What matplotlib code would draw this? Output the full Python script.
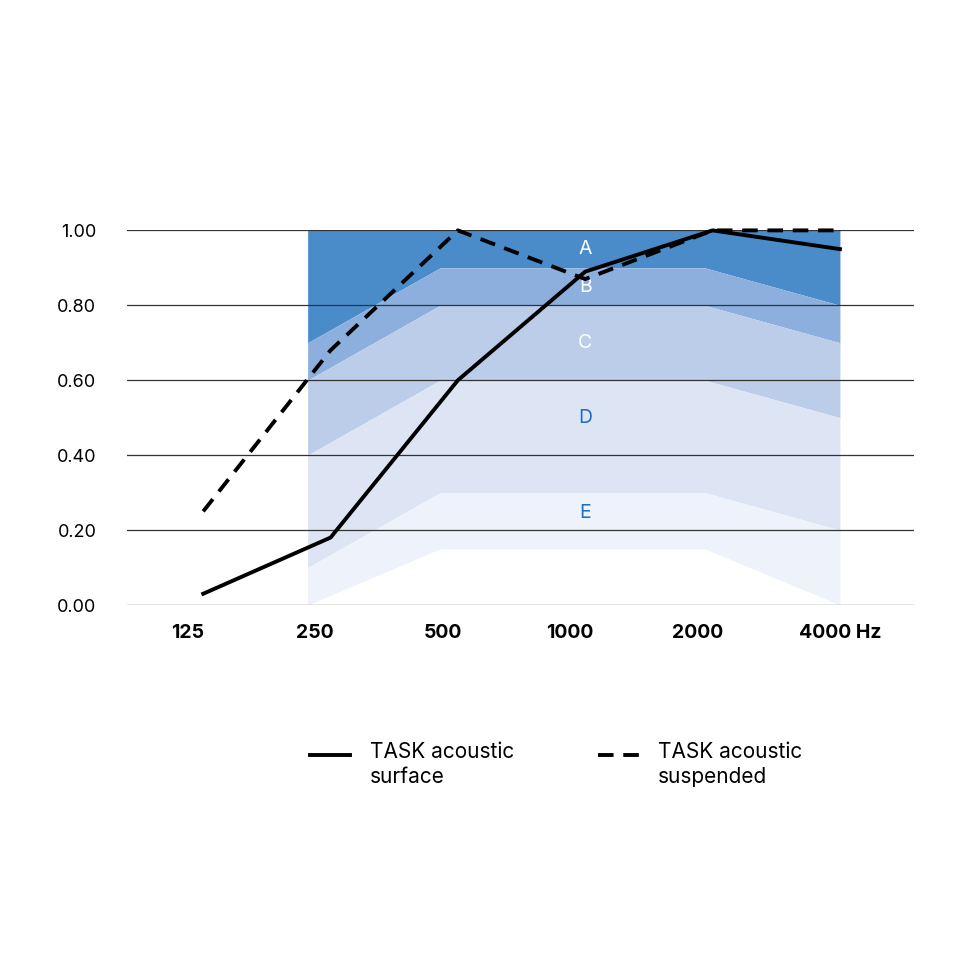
import matplotlib
matplotlib.use("Agg")
import matplotlib.pyplot as plt
from matplotlib.lines import Line2D

plt.rcParams['font.family'] = ['Inter', 'DejaVu Sans']

freqs = ["125", "250", "500", "1000", "2000", "4000 Hz"]
surface = [0.03, 0.18, 0.60, 0.89, 1.00, 0.95]
suspended = [0.25, 0.68, 1.00, 0.87, 1.00, 1.00]

band_x = [0.82, 1.86, 3.94, 5.0]
b_top = [1.0, 1.0, 1.0, 1.0]
b_A = [0.70, 0.90, 0.90, 0.80]
b_B = [0.60, 0.80, 0.80, 0.70]
b_C = [0.40, 0.60, 0.60, 0.50]
b_D = [0.10, 0.30, 0.30, 0.20]
b_E = [0.00, 0.15, 0.15, 0.00]
bounds = [b_top, b_A, b_B, b_C, b_D, b_E]
band_colors = ["#4a8bca", "#8cafdd", "#bccdea", "#dde5f4", "#eef2fa"]
class_labels = ["A", "B", "C", "D", "E"]
class_y = [0.95, 0.85, 0.70, 0.50, 0.245]
class_colors = ["white", "white", "white", "#1f6fbf", "#1f6fbf"]

fig = plt.figure(figsize=(9.68, 9.68), dpi=100)
ax = fig.add_axes([0.131, 0.375, 0.813, 0.387])
xs = list(range(len(freqs)))

for i in range(5):
    ax.fill_between(band_x, bounds[i + 1], bounds[i], color=band_colors[i], lw=0, zorder=1)
for lab, y, c in zip(class_labels, class_y, class_colors):
    ax.text(3.0, y, lab, color=c, fontsize=14, ha="center", va="center", zorder=3)

for y in [0, 0.2, 0.4, 0.6, 0.8, 1.0]:
    ax.axhline(y, color="#333333", lw=0.9, zorder=2)

ax.plot(xs, surface, color="black", lw=2.8, zorder=4, clip_on=False)
ax.plot(xs, suspended, color="black", lw=2.8, ls=(0, (4, 2.5)), zorder=4, clip_on=False)

ax.set_xlim(-0.6, 5.58)
ax.set_ylim(0, 1)
ax.set_yticks([0, 0.2, 0.4, 0.6, 0.8, 1.0])
ax.set_yticklabels(["0.00", "0.20", "0.40", "0.60", "0.80", "1.00"], fontsize=13)
ax.set_xticks([x - 0.12 for x in xs[:-1]] + [xs[-1] + 0.0])
ax.set_xticklabels(freqs, fontsize=14, fontweight="bold")
ax.tick_params(length=0, pad=14)
ax.tick_params(axis="y", pad=22)
for s in ax.spines.values():
    s.set_visible(False)

y1 = 1 - 755 / 968
fig.add_artist(Line2D([310 / 968, 350 / 968], [y1, y1], color="black", lw=2.8))
fig.add_artist(Line2D([598 / 968, 640 / 968], [y1, y1], color="black", lw=2.8, ls=(0, (4, 2.5))))
fig.text(370 / 968, y1 + 0.013, "TASK acoustic\nsurface", fontsize=15, va="top", linespacing=1.3)
fig.text(658 / 968, y1 + 0.013, "TASK acoustic\nsuspended", fontsize=15, va="top", linespacing=1.3)

fig.savefig("out.png", dpi=100)
